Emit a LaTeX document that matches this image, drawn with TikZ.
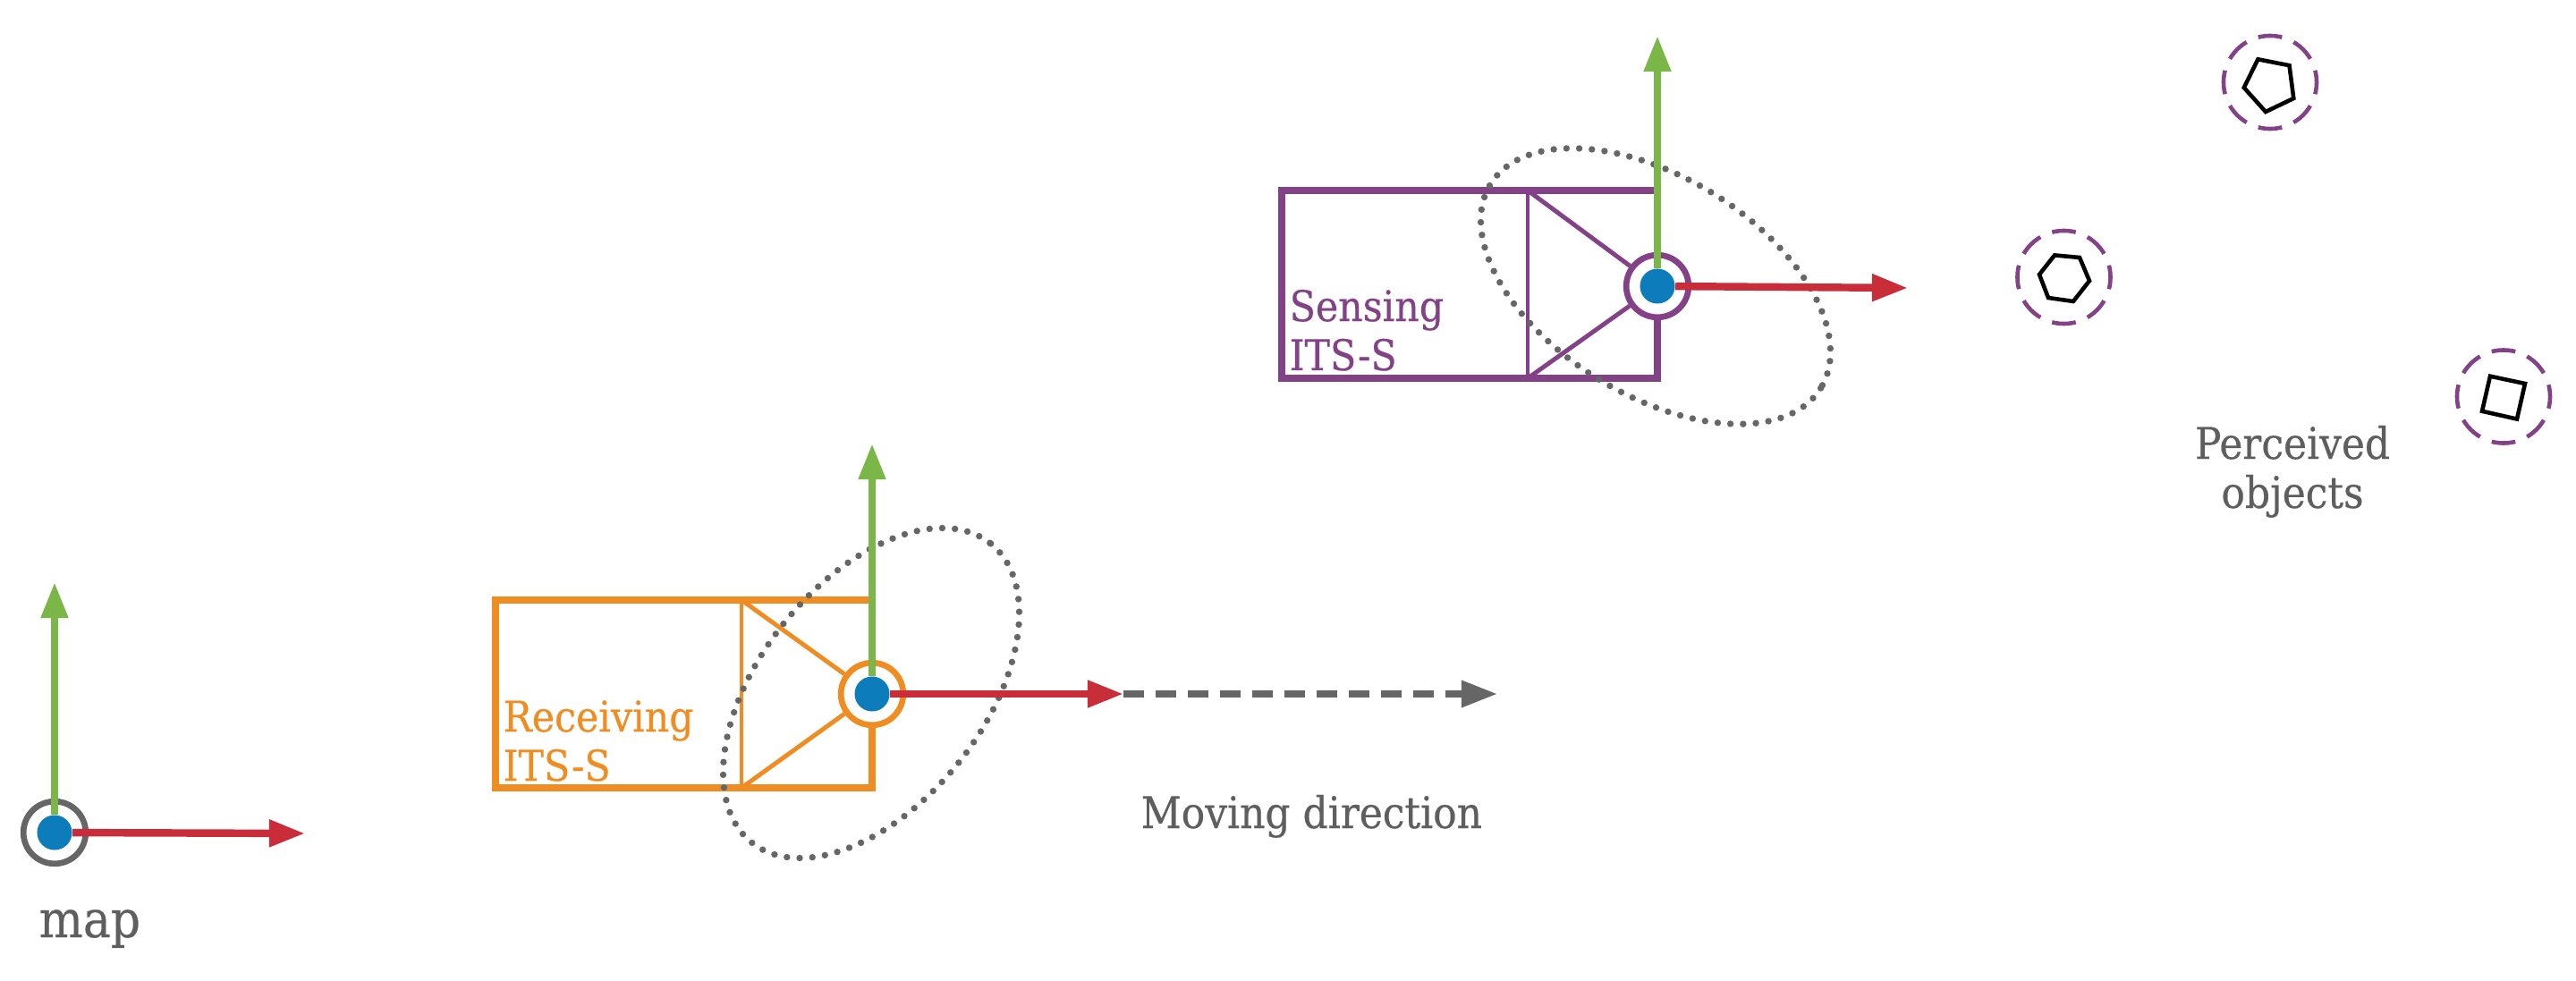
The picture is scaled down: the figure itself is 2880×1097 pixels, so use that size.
\documentclass[tikz,border=0pt]{standalone}
\usepackage{fontspec}
\setmainfont[AutoFakeBold=0.4]{DejaVu Serif Condensed}
\usetikzlibrary{arrows.meta}
\definecolor{axisred}{HTML}{C92D39}
\definecolor{axisgreen}{HTML}{7AB648}
\definecolor{dotblue}{HTML}{0C7CBA}
\definecolor{recvorange}{HTML}{EF8D22}
\definecolor{sensepurple}{HTML}{834187}
\definecolor{darkgray}{HTML}{666666}
\definecolor{textgray}{HTML}{5E5E5E}
\tikzset{
  origin/.style={circle, fill=dotblue, inner sep=0pt, minimum size=11.1pt},
  ringnode/.style={circle, draw=#1, fill=white, line width=1.9pt, inner sep=0pt, minimum size=19.8pt},
  axis/.style={line width=2.4pt, -{Triangle[length=11.4pt, width=8.2pt]}},
  bodyline/.style={line width=2.2pt, line join=miter},
  noseline/.style={line width=1.4pt},
  uncertainty/.style={darkgray, line width=2.1pt, line cap=round, dash pattern=on 0pt off 4.05pt},
  objring/.style={circle, draw=sensepurple, line width=1.3pt, inner sep=0pt, minimum size=29.6pt,
    dash pattern=on 7.6pt off 4.02pt, dash phase=3.8pt},
  objshape/.style={draw=black, line width=1.3pt, line join=miter},
  label/.style={font=\fontsize{#1}{15.6pt}\selectfont\bfseries, inner sep=0pt, anchor=base west}
}
\begin{document}
\begin{tikzpicture}[x=0.01cm, y=-0.01cm]
\useasboundingbox (0,0) rectangle (2880,1097);

% vehicle bodies
\foreach \nm/\l/\t/\m/\r/\b/\cx/\cy/\col in {recv/554/671/829/975/881/975/776/recvorange,
                                             sense/1433/213/1708/1853/423/1853/320/sensepurple} {
    \draw[bodyline, draw=\col] (\l,\t) rectangle (\r,\b);
    \coordinate (\nm top) at (\m,\t);
    \coordinate (\nm bot) at (\m,\b);
    \node[ringnode=\col] (\nm ring) at (\cx,\cy) {};
    \draw[noseline, draw=\col] (\nm top) -- (\nm bot);
    \draw[noseline, draw=\col] (\nm top) -- (\nm ring);
    \draw[noseline, draw=\col] (\nm bot) -- (\nm ring);
}
\node[ringnode=darkgray] (map ring) at (61,931) {};

% uncertainty ellipses
\draw[uncertainty, rotate around={51.35:(974,775)}] (974,775) ellipse (214 and 125);
\draw[uncertainty, rotate around={-31.7:(1851,320)}] (1851,320) ellipse (217 and 122);

% moving direction
\node[origin] (recv) at (975,776) {};
\coordinate (recv x) at (1256,776);
\coordinate (move) at (1674,776);
\draw[line width=2.1pt, darkgray, dash pattern=on 6.4pt off 3.85pt, -{Triangle[length=11.4pt, width=8.2pt]}] (recv x) -- (move);

% reference frames
\node[origin] (map) at (61,931) {};
\node[origin] (sense) at (1853,320) {};
\coordinate (map y) at (61,651);
\coordinate (map x) at (341,932);
\coordinate (recv y) at (975,496);
\coordinate (sense y) at (1853,40);
\coordinate (sense x) at (2133,322);
\foreach \nm in {map,recv,sense} {
    \draw[axis, axisgreen] (\nm) -- (\nm\space y);
    \draw[axis, axisred] (\nm) -- (\nm\space x);
}

% perceived objects
\foreach \nm/\x/\y in {penta/2538/92,hexa/2307.5/310,quad/2799/443.5}
    \node[objring] (\nm) at (\x,\y) {};
\draw[objshape] (2524.4,66.3) -- (2559.5,73.2) -- (2564.3,110) -- (2533,125) -- (2508.8,98) -- cycle;
\draw[objshape] (2297,285.4) -- (2325,288) -- (2336,314) -- (2318,337) -- (2290,333) -- (2280,307) -- cycle;
\draw[objshape] (2784,420.7) -- (2823,429) -- (2814,468.6) -- (2775,459.8) -- cycle;

% labels
\node[label=16.4pt, textgray] (maplabel) at (43,1048) {map};
\node[label=13.9pt, textgray] (movelabel) at (1275,926) {Moving direction};
\node[label=13.9pt, textgray, align=center, anchor=base] (objlabel) at (2563,568) {Perceived\\objects};
\node[label=13.5pt, recvorange, align=left] (recvlabel) at (562,873) {Receiving\\ITS-S};
\node[label=13.5pt, sensepurple, align=left] (senselabel) at (1441,414) {Sensing\\ITS-S};
\end{tikzpicture}
\end{document}
